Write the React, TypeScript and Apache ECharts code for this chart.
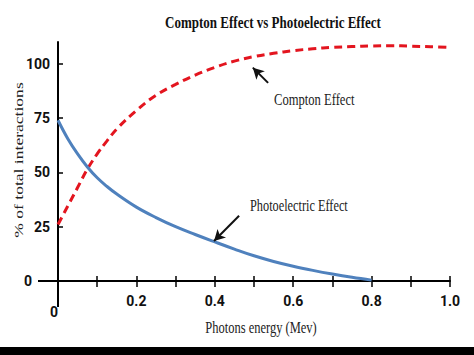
import React, { useEffect, useRef } from "react";
import * as echarts from "echarts";

const titleText = "Compton Effect vs Photoelectric Effect";
const xName = "Photons energy (Mev)";
const yName = "% of total interactions";
const comptonLabel = "Compton Effect";
const photoLabel = "Photoelectric Effect";

const energy = [0, 0.025, 0.05, 0.075, 0.1, 0.125, 0.15, 0.2, 0.25, 0.3, 0.35, 0.4, 0.45, 0.5, 0.55, 0.6, 0.65, 0.7, 0.75, 0.8, 0.85, 0.9, 0.95, 1.0];
const compton = [26, 34.5, 43, 51.5, 58.5, 64.5, 70, 78.5, 85.5, 90.5, 94.8, 98.3, 101.2, 103.3, 104.8, 106, 106.9, 107.5, 107.9, 108.2, 108.3, 108.1, 107.8, 107.5];
const photoEnergy = [0, 0.025, 0.05, 0.075, 0.1, 0.125, 0.15, 0.2, 0.25, 0.3, 0.35, 0.4, 0.45, 0.5, 0.55, 0.6, 0.65, 0.7, 0.75, 0.8];
const photo = [74, 65.5, 58.5, 52.5, 47.5, 43.5, 40, 34, 29.2, 25, 21.4, 18, 14.7, 11.6, 9, 6.8, 4.9, 3.2, 1.7, 0.4];

const xTicks = [0, 0.1, 0.2, 0.3, 0.4, 0.5, 0.6, 0.7, 0.8, 0.9, 1.0];
const xLabels = [0.2, 0.4, 0.6, 0.8, 1.0];
const yTicks = [0, 25, 50, 75, 100];
const yLabels = [25, 50, 75, 100];

// arrow annotations in data coordinates [tail, head]
const comptonArrow = [[0.536, 91.2], [0.497, 98.2]];
const photoArrow = [[0.462, 30], [0.398, 18.4]];

const tickFont = "Roboto, sans-serif";
const serif = "'Liberation Serif', 'Times New Roman', serif";

export default function App() {
  const ref = useRef<HTMLDivElement>(null);
  useEffect(() => {
    if (!ref.current) return;
    const chart = echarts.init(ref.current, undefined, { renderer: "svg" });
    const labelStyle = {
      fontFamily: tickFont,
      fontWeight: "bold" as const,
      fontSize: 14,
      color: "#111",
    };
    const GL = 58, GR = 24, GT = 42, GB = 74;
    chart.setOption({
      animation: false,
      backgroundColor: "#fff",
      grid: { left: GL, right: GR, top: GT, bottom: GB, containLabel: false },
      xAxis: [
        {
          type: "value",
          min: 0,
          max: 1.0,
          position: "bottom",
          axisLine: { onZero: false, lineStyle: { color: "#000", width: 2 } },
          axisTick: { show: true, customValues: xTicks, length: 6, inside: false, lineStyle: { color: "#000", width: 1.5 } },
          axisLabel: {
            customValues: xLabels,
            margin: 13,
            ...labelStyle,
            formatter: (v: number) => v.toFixed(1),
          },
          splitLine: { show: false },
        },
        {
          type: "value",
          min: 0,
          max: 1.0,
          position: "bottom",
          axisLine: { show: false, onZero: false },
          axisTick: { show: true, customValues: xTicks, length: 5, inside: true, lineStyle: { color: "#000", width: 1.5 } },
          axisLabel: { customValues: [0], margin: 24, ...labelStyle, formatter: () => "0", padding: [0, 8, 0, 0] },
          splitLine: { show: false },
        },
      ],
      yAxis: [
        {
          type: "value",
          min: 0,
          max: 110,
          position: "left",
          axisLine: { onZero: false, lineStyle: { color: "#000", width: 2 } },
          axisTick: { show: true, customValues: yTicks, length: 5, inside: true, lineStyle: { color: "#000", width: 1.5 } },
          axisLabel: { customValues: yLabels, margin: 8, ...labelStyle },
          splitLine: { show: false },
        },
        {
          type: "value",
          min: 0,
          max: 110,
          position: "left",
          axisLine: { show: false, onZero: false },
          axisTick: { show: false },
          axisLabel: { customValues: [0], margin: 26, ...labelStyle },
          splitLine: { show: false },
        },
      ],
      series: [
        {
          name: comptonLabel,
          type: "line",
          smooth: 0.4,
          showSymbol: false,
          data: energy.map((x, i) => [x, compton[i]]),
          lineStyle: { color: "#e3151f", width: 3, type: [8, 5] },
          z: 3,
        },
        {
          name: photoLabel,
          type: "line",
          smooth: 0.4,
          showSymbol: false,
          data: photoEnergy.map((x, i) => [x, photo[i]]),
          lineStyle: { color: "#4f81bd", width: 3 },
          z: 3,
          markLine: {
            silent: true,
            symbol: ["none", "arrow"],
            symbolSize: [9, 11],
            lineStyle: { color: "#111", width: 2, type: "solid" },
            label: { show: false },
            data: [
              [{ coord: comptonArrow[0] }, { coord: comptonArrow[1] }],
              [{ coord: photoArrow[0] }, { coord: photoArrow[1] }],
            ],
          },
        },
      ],
      graphic: [
        // axis line extensions past the origin (decorative)
        {
          type: "line",
          shape: { x1: 38, y1: 355 - GB, x2: GL, y2: 355 - GB },
          style: { stroke: "#000", lineWidth: 2 },
        },
        {
          type: "line",
          shape: { x1: GL, y1: 355 - GB, x2: GL, y2: 307 },
          style: { stroke: "#000", lineWidth: 2 },
        },
        {
          type: "text",
          x: 273,
          y: 22,
          scaleY: 1.35,
          style: { text: titleText, x: 0, y: 0, align: "center", verticalAlign: "middle", fontFamily: serif, fontWeight: "bold", fontSize: 13, fill: "#111" },
        },
        {
          type: "text",
          x: 18,
          y: 160,
          rotation: Math.PI / 2,
          scaleX: 1.35,
          style: { text: yName, x: 0, y: 0, align: "center", verticalAlign: "middle", fontFamily: serif, fontSize: 13, fill: "#222" },
        },
        {
          type: "text",
          x: 261,
          y: 327,
          scaleY: 1.35,
          style: { text: xName, x: 0, y: 0, align: "center", verticalAlign: "middle", fontFamily: serif, fontSize: 12.5, fill: "#222" },
        },
        {
          type: "text",
          x: 274,
          y: 99,
          scaleY: 1.35,
          style: { text: comptonLabel, x: 0, y: 0, align: "left", verticalAlign: "middle", fontFamily: serif, fontSize: 12.6, fill: "#222" },
        },
        {
          type: "text",
          x: 250,
          y: 205,
          scaleY: 1.35,
          style: { text: photoLabel, x: 0, y: 0, align: "left", verticalAlign: "middle", fontFamily: serif, fontSize: 12.3, fill: "#222" },
        },
        {
          type: "rect",
          shape: { x: 0, y: 347, width: 474, height: 8 },
          style: { fill: "#000" },
        },
      ],
    });
    return () => chart.dispose();
  }, []);
  return <div ref={ref} style={{ position: "absolute", left: 0, top: 0, width: 474, height: 355 }} />;
}
